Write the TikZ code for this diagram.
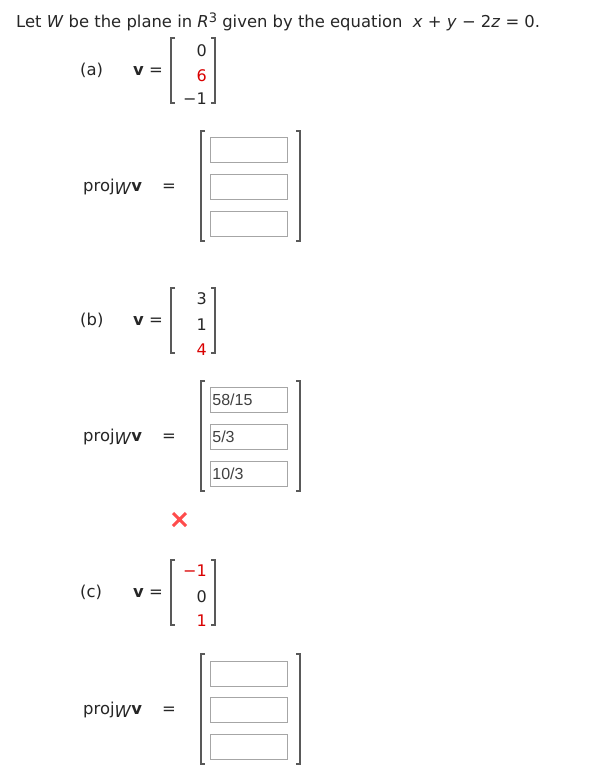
\documentclass[tikz,border=0pt]{standalone}
\usepackage{fontspec}
\setmainfont{DejaVu Sans}
\newfontfamily\arial{Liberation Sans}
\begin{document}
\begin{tikzpicture}[x=1pt,y=-1pt,
  txt/.style={inner sep=0pt,anchor=base west,font=\fontsize{16.4}{18}\selectfont,text=black!85},
  ent/.style={inner sep=0pt,anchor=base east,font=\fontsize{16}{18}\selectfont,text=black!85},
  red/.style={text=red!85!black},
  brk/.style={draw=black!65,line width=1.3pt},
  inbox/.style={draw=black!35,line width=0.8pt,minimum width=77pt,minimum height=25pt,inner sep=2pt,anchor=north west,text width=73pt,align=left,font=\arial\fontsize{16}{18}\selectfont,text=black!75}]
\useasboundingbox (0,0) rectangle (604,769);
\node[txt] (title) at (16,27) {Let \textit{W} be the plane in \textit{R}\raisebox{0.55ex}{\fontsize{13}{14}\selectfont 3} given by the equation\ \ \textit{x} + \textit{y} − 2\textit{z} = 0.};
\newcommand\vlab[2]{%
  \node[txt] (lab#1) at (80,#2+5) {(#1)};
  \node[txt] (veq#1) at (133,#2+5) {\textbf{v} =};
  \draw[brk] (175,#2-32) -- (171,#2-32) -- (171,#2+33) -- (175,#2+33);
  \draw[brk] (211,#2-32) -- (215,#2-32) -- (215,#2+33) -- (211,#2+33);
}
\newcommand\proj[2]{%
  \node[txt] (p#1) at (83,#2+5) {proj\raisebox{-0.35ex}{\textit{W}}\textbf{v}};
  \node[txt] (peq#1) at (162,#2+5) {=};
  \draw[brk] (205,#2-55) -- (201,#2-55) -- (201,#2+55) -- (205,#2+55);
  \draw[brk] (296,#2-55) -- (300,#2-55) -- (300,#2+55) -- (296,#2+55);
}
% (a)
\vlab{a}{70}
\node[ent] (ea1) at (207,56) {0};
\node[ent,red] (ea2) at (207,81) {6};
\node[ent] (ea3) at (207,104) {−1};
\proj{a}{186}
\node[inbox] (a1) at (210,137) {};
\node[inbox] (a2) at (210,174) {};
\node[inbox] (a3) at (210,211) {};
% (b)
\vlab{b}{320}
\node[ent] (eb1) at (207,304) {3};
\node[ent] (eb2) at (207,330) {1};
\node[ent,red] (eb3) at (207,355) {4};
\proj{b}{436}
\node[inbox] (b1) at (210,387) {58/15};
\node[inbox] (b2) at (210,424) {5/3};
\node[inbox] (b3) at (210,461) {10/3};
\draw[red!70,line width=3pt] (173,513) -- (186,526) (186,513) -- (173,526);
% (c)
\vlab{c}{592}
\node[ent,red] (ec1) at (207,576) {−1};
\node[ent] (ec2) at (207,602) {0};
\node[ent,red] (ec3) at (207,626) {1};
\proj{c}{709}
\node[inbox] (c1) at (210,661) {};
\node[inbox] (c2) at (210,697) {};
\node[inbox] (c3) at (210,734) {};
\end{tikzpicture}
\end{document}
